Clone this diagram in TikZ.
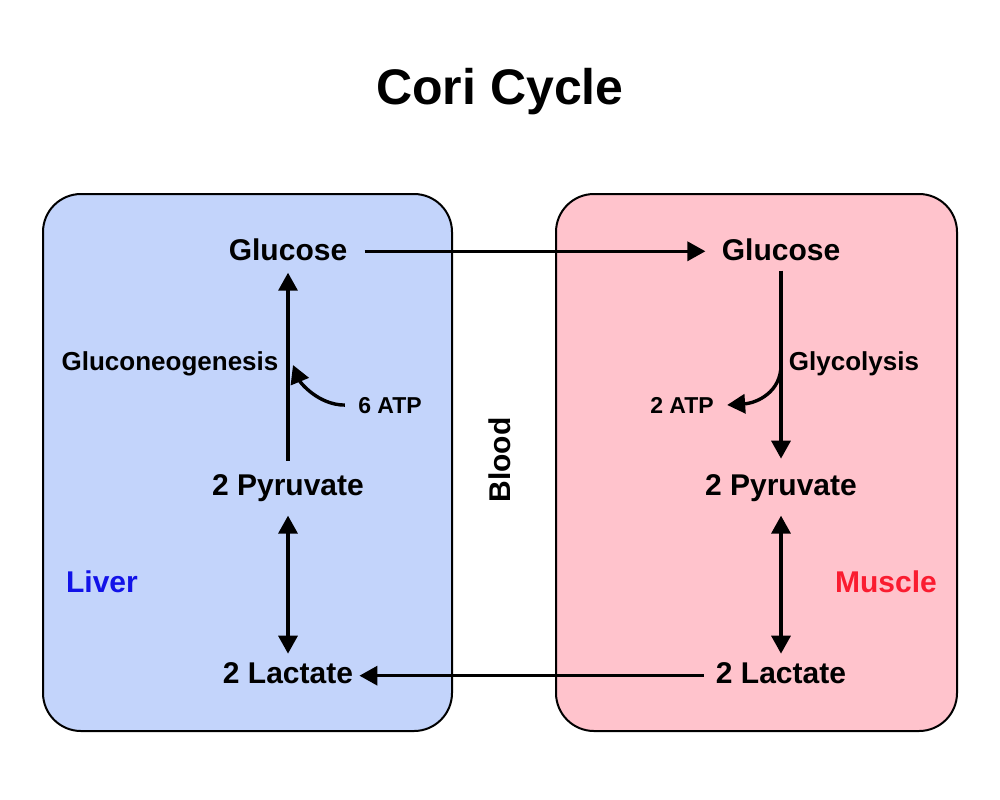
\documentclass[tikz,border=0pt]{standalone}
\usepackage{fontspec}
\setmainfont{Liberation Sans}
\usetikzlibrary{arrows.meta}
\definecolor{liverfill}{RGB}{195,212,251}
\definecolor{musclefill}{RGB}{255,195,204}
\definecolor{liverblue}{RGB}{18,18,232}
\definecolor{musclered}{RGB}{250,28,48}
\begin{document}
\begin{tikzpicture}[x=0.5pt,y=-0.5pt,
 organ/.style={draw=black,line width=1pt,rounded corners=19pt},
 mainlbl/.style={font=\bfseries\fontsize{15}{18}\selectfont,inner sep=0pt,anchor=base},
 proclbl/.style={font=\bfseries\fontsize{13}{16}\selectfont,inner sep=0pt,anchor=base},
 atplbl/.style={font=\bfseries\fontsize{11.5}{14}\selectfont,inner sep=0pt,anchor=base},
 arr/.style={line width=1.7pt,-{Triangle[length=9pt,width=9.5pt]}},
 darr/.style={line width=1.7pt,{Triangle[length=9pt,width=9.5pt]}-{Triangle[length=9pt,width=9.5pt]}}]
\useasboundingbox (0,0) rectangle (1000,799);
\fill[white] (0,0) rectangle (1000,799);
% organ boxes
\path[organ,fill=liverfill] (43,194) rectangle (452,731);
\path[organ,fill=musclefill] (556,194) rectangle (957,731);
% title
\node[font=\bfseries\fontsize{25}{30}\selectfont,inner sep=0pt,anchor=base] (title) at (500,104) {Cori Cycle};
% liver side
\node[mainlbl] (gL) at (288,260) {Glucose};
\node[mainlbl] (pL) at (288,495) {2 Pyruvate};
\node[mainlbl] (lL) at (288,683) {2 Lactate};
\node[proclbl] (gluco) at (170,370) {Gluconeogenesis};
\node[atplbl] (atp6) at (390,413) {6 ATP};
\node[mainlbl,text=liverblue] (liver) at (102,592) {Liver};
% muscle side
\node[mainlbl] (gR) at (781,260) {Glucose};
\node[mainlbl] (pR) at (781,495) {2 Pyruvate};
\node[mainlbl] (lR) at (781,683) {2 Lactate};
\node[proclbl] (glyco) at (854,370) {Glycolysis};
\node[atplbl] (atp2) at (682,413) {2 ATP};
\node[mainlbl,text=musclered] (muscle) at (886,592) {Muscle};
% blood
\node[mainlbl,anchor=center,rotate=90] (blood) at (500,460) {Blood};
% coordinates
\coordinate (tip6) at (293,365);
\coordinate (gly0) at (781,365);
% connectors
\draw[arr,shorten <=8.5pt,shorten >=8pt] ([yshift=-1pt]gL.east) -- ([yshift=-1pt]gR.west);
\draw[arr,shorten <=6pt] ([yshift=-1.5pt]lR.west) -- ([yshift=-1.5pt,xshift=3pt]lL.east);
\draw[arr,shorten <=6.5pt,shorten >=6pt] (pL) -- (gL);
\draw[darr,shorten <=7pt,shorten >=4pt] (pL) -- (lL);
\draw[arr,shorten <=5pt,shorten >=7.5pt] (gR) -- (pR);
\draw[darr,shorten <=7pt,shorten >=4pt] (pR) -- (lR);
\draw[arr] ([xshift=-6.5pt]atp6.west) .. controls (318,405) and (300,382) .. (tip6);
\draw[arr] (gly0) .. controls (781,392) and (757,403) .. ([xshift=6.5pt]atp2.east);
\end{tikzpicture}
\end{document}
